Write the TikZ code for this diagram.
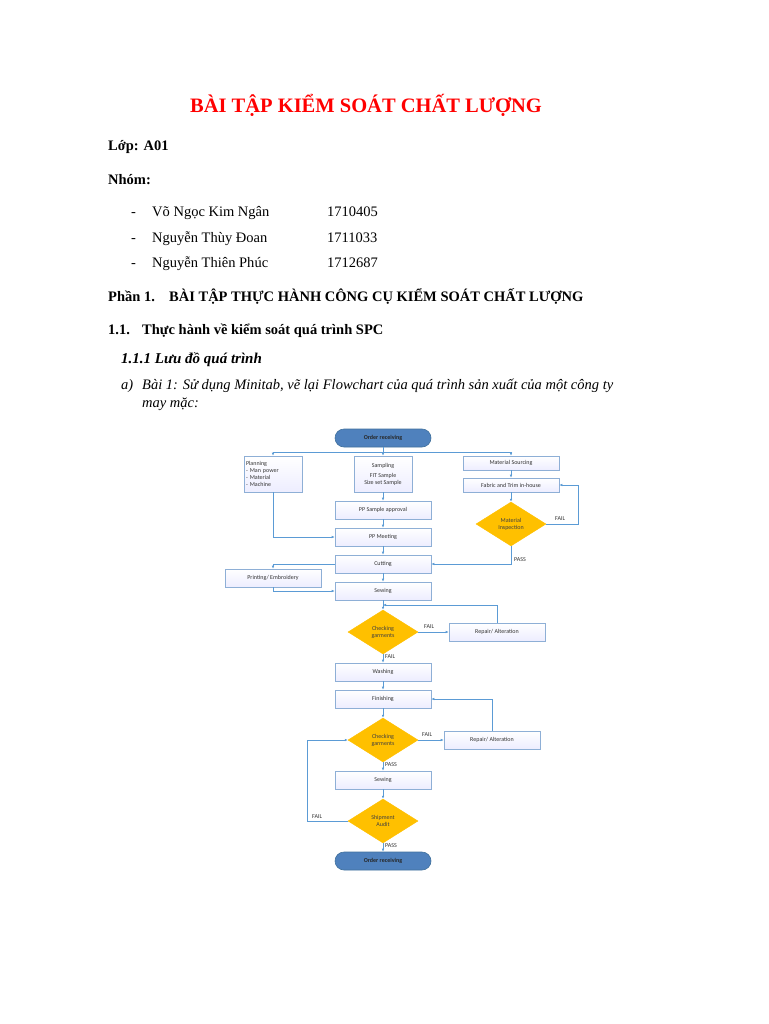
\documentclass[tikz,border=0pt]{standalone}
\usepackage{fontspec}
\setmainfont{Liberation Serif}
\newfontfamily\flfont{Carlito}
\usetikzlibrary{shapes.geometric,arrows.meta}
\definecolor{ttl}{HTML}{FF0000}
\definecolor{lnc}{HTML}{5B9BD5}
\definecolor{bxb}{HTML}{8EAFD6}
\definecolor{trm}{HTML}{4F81BD}
\definecolor{trb}{HTML}{41719C}
\definecolor{dia}{HTML}{FFC000}
\tikzset{
  txt/.style={anchor=base west,inner sep=0pt,font=\fontsize{14.5}{17}\selectfont},
  bx/.style={draw=bxb,line width=0.6pt,top color=white,bottom color=blue!7,minimum width=96pt,minimum height=18pt,inner sep=1pt,font=\flfont\fontsize{6}{7}\selectfont,text=black!80},
  term/.style={draw=trb,line width=0.6pt,fill=trm,rounded corners=9pt,minimum width=96pt,minimum height=18pt,inner sep=1pt,font=\flfont\bfseries\fontsize{6}{7}\selectfont,text=black!85},
  dm/.style={diamond,draw=dia,fill=dia,aspect=1.6,inner sep=0pt,minimum width=70pt,minimum height=44pt,align=center,font=\flfont\fontsize{6}{7}\selectfont,text=black!75},
  arr/.style={draw=lnc,line width=0.7pt,-{Latex[length=3pt,width=2.6pt]}},
  ln/.style={draw=lnc,line width=0.7pt},
  lab/.style={font=\flfont\fontsize{6}{7}\selectfont,text=black!80,inner sep=0pt}
}
\begin{document}
\begin{tikzpicture}[x=1pt,y=-1pt]
\useasboundingbox[fill=white] (0,0) rectangle (768,1024);
% heading text
\node[anchor=base,inner sep=0pt,text=ttl,font=\bfseries\fontsize{20.5}{24}\selectfont] (title) at (366,113) {BÀI TẬP KIỂM SOÁT CHẤT LƯỢNG};
\node[txt,font=\bfseries\fontsize{14.5}{17}\selectfont] (lop) at (108,151) {Lớp: A01};
\node[txt,font=\bfseries\fontsize{14.5}{17}\selectfont] (nhom) at (108,185) {Nhóm:};
\node[txt] (d1) at (131,217) {-};
\node[txt] (n1) at (152,217) {Võ Ngọc Kim Ngân};
\node[txt] (m1) at (327,217) {1710405};
\node[txt] (d2) at (131,242) {-};
\node[txt] (n2) at (152,242) {Nguyễn Thùy Đoan};
\node[txt] (m2) at (327,242) {1711033};
\node[txt] (d3) at (131,267) {-};
\node[txt] (n3) at (152,267) {Nguyễn Thiên Phúc};
\node[txt] (m3) at (327,267) {1712687};
\node[txt,font=\bfseries\fontsize{14.5}{17}\selectfont] (p1) at (108,301) {Phần 1.};
\node[txt,font=\bfseries\fontsize{14.5}{17}\selectfont] (p1t) at (169,301) {BÀI TẬP THỰC HÀNH CÔNG CỤ KIỂM SOÁT CHẤT LƯỢNG};
\node[txt,font=\bfseries\fontsize{14.5}{17}\selectfont] (s11) at (108,334) {1.1.};
\node[txt,font=\bfseries\fontsize{14.5}{17}\selectfont] (s11t) at (142,334) {Thực hành về kiểm soát quá trình SPC};
\node[txt,font=\bfseries\itshape\fontsize{15}{17}\selectfont] (s111) at (121,363) {1.1.1 Lưu đồ quá trình};
\node[txt,font=\itshape\fontsize{14.5}{17}\selectfont] (aa) at (121,389) {a)};
\node[txt,font=\itshape\fontsize{14.5}{17}\selectfont] (aat) at (142,389) {Bài 1: Sử dụng Minitab, vẽ lại Flowchart của quá trình sản xuất của một công ty};
\node[txt,font=\itshape\fontsize{14.5}{17}\selectfont] (aat2) at (142,407) {may mặc:};
% flowchart nodes
\node[term] (ord1) at (383,438) {Order receiving};
\node[bx,minimum width=58pt,minimum height=36pt,text width=54pt,align=left] (plan) at (273,474) {Planning\\- Man power\\- Material\\- Machine};
\node[bx,minimum width=58pt,minimum height=36pt,align=center] (samp) at (383,474) {Sampling\\[3pt]FIT Sample\\Size set Sample};
\node[bx,minimum height=14pt] (msrc) at (511,463) {Material Sourcing};
\node[bx,minimum height=14pt] (fab) at (511,485) {Fabric and Trim in-house};
\node[dm] (minsp) at (511,524) {Material\\Inspection};
\node[bx] (ppsa) at (383,510) {PP Sample approval};
\node[bx] (ppm) at (383,537) {PP Meeting};
\node[bx] (cut) at (383,564) {Cutting};
\node[bx] (print) at (273,578) {Printing/ Embroidery};
\node[bx] (sew1) at (383,591) {Sewing};
\node[dm] (chk1) at (383,632) {Checking\\garments};
\node[bx] (rep1) at (497,632) {Repair/ Alteration};
\node[bx] (wash) at (383,672) {Washing};
\node[bx] (fin) at (383,699) {Finishing};
\node[dm] (chk2) at (383,740) {Checking\\garments};
\node[bx] (rep2) at (492,740) {Repair/ Alteration};
\node[bx] (sew2) at (383,780) {Sewing};
\node[dm] (ship) at (383,821) {Shipment\\Audit};
\node[term] (ord2) at (383,861) {Order receiving};
% coordinates
\coordinate (tl) at (273,452);
\coordinate (tr) at (511,452);
\coordinate (fl1) at (578,524);
\coordinate (mg1) at (383,605);
\coordinate (fl3) at (307,821);
% connectors
\draw[ln] (tl) -- (tr);
\draw[arr] (ord1.south) -- (samp.north);
\draw[arr] (tl) -- (plan.north);
\draw[arr] (tr) -- (msrc.north);
\draw[arr] (msrc) -- (fab);
\draw[arr] (fab) -- (minsp);
\draw[arr] (minsp.east) -- (fl1) |- (fab.east);
\draw[arr] (minsp.south) |- (cut.east);
\draw[arr] (samp) -- (ppsa);
\draw[arr] (ppsa) -- (ppm);
\draw[arr] (plan.south) |- (ppm.west);
\draw[arr] (ppm) -- (cut);
\draw[arr] (cut.west) -| (print.north);
\draw[arr] (print.south) |- (sew1.west);
\draw[arr] (cut) -- (sew1);
\draw[arr] (sew1) -- (chk1);
\draw[arr] (chk1.east) -- (rep1.west);
\draw[arr] (rep1.north) |- (mg1);
\draw[arr] (chk1.south) -- (wash.north);
\draw[arr] (wash) -- (fin);
\draw[arr] (fin) -- (chk2);
\draw[arr] (chk2.east) -- (rep2.west);
\draw[arr] (rep2.north) |- (fin.east);
\draw[arr] (chk2.south) -- (sew2.north);
\draw[arr] (sew2) -- (ship);
\draw[arr] (ship.west) -- (fl3) |- (chk2.west);
\draw[arr] (ship.south) -- (ord2.north);
% labels
\node[lab,anchor=west] (lf1) at (555,519) {FAIL};
\node[lab,anchor=west] (lp1) at (514,560) {PASS};
\node[lab,anchor=west] (lf2) at (424,627) {FAIL};
\node[lab,anchor=west] (lf3) at (385,657) {FAIL};
\node[lab,anchor=west] (lf4) at (422,735) {FAIL};
\node[lab,anchor=west] (lp2) at (385,765) {PASS};
\node[lab,anchor=west] (lf5) at (312,817) {FAIL};
\node[lab,anchor=west] (lp3) at (385,846) {PASS};
\end{tikzpicture}
\end{document}
